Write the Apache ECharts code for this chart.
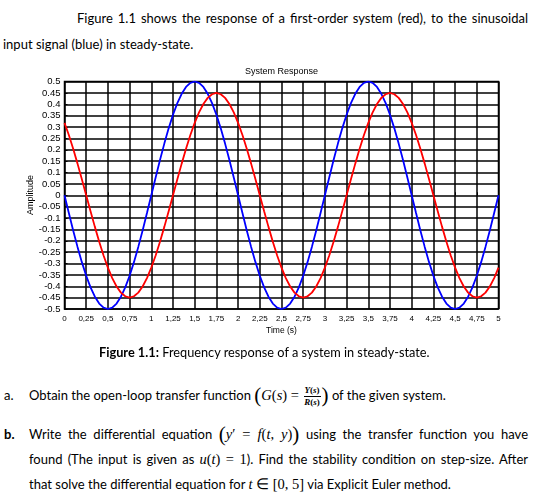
<!DOCTYPE html>
<html>
<head>
<meta charset="utf-8">
<script src="https://cdn.jsdelivr.net/npm/echarts@6/dist/echarts.min.js"></script>
<style>
  html, body { margin:0; padding:0; background:#fff; }
  body { width:555px; height:504px; position:relative; overflow:hidden;
         font-family: Lato, "Open Sans", sans-serif; font-size:13px; color:#000; }
  .ln { position:absolute; line-height:20px; white-space:nowrap; }
  .just { text-align:justify; text-align-last:justify; white-space:normal; }
  .m { font-family:"Liberation Serif", serif; font-size:14.5px; }
  .par { font-family:"Liberation Serif", serif; font-size:21px; vertical-align:-2px; line-height:10px; }
  .frac { display:inline-block; vertical-align:middle; text-align:center;
          font-family:"Liberation Serif", serif; font-size:9px; line-height:9px; font-weight:bold; margin:0 1px; }
  .frac .num { display:block; border-bottom:1px solid #000; padding:0 1px 1px 1px; }
  .frac .den { display:block; padding-top:1px; }
  #chart { position:absolute; left:0; top:60px; width:555px; height:285px; }
</style>
</head>
<body>
<div class="ln just" style="left:77px; top:8px; width:451px;">Figure 1.1 shows the response of a first-order system (red), to the sinusoidal</div>
<div class="ln" style="left:3px; top:34px;">input signal (blue) in steady-state.</div>
<div id="chart"></div>
<div class="ln" style="left:99px; top:342px; font-size:12.75px;"><b>Figure 1.1:</b> Frequency response of a system in steady-state.</div>

<div class="ln" style="left:4px; top:385px;">a.</div>
<div class="ln" style="left:29px; top:385px;">Obtain the open-loop transfer function <span class="par">(</span><span class="m"><i>G</i>(<i>s</i>) = </span><span class="frac"><span class="num"><i>Y</i>(<i>s</i>)</span><span class="den"><i>R</i>(<i>s</i>)</span></span><span class="par">)</span> of the given system.</div>

<div class="ln" style="left:4px; top:424px;"><b>b.</b></div>
<div class="ln just" style="left:29px; top:424px; width:499px;">Write the differential equation <span class="par">(</span><span class="m"><i>y</i>′ = <i>f</i>(<i>t</i>, <i>y</i>)</span><span class="par">)</span> using the transfer function you have</div>
<div class="ln just" style="left:29px; top:449px; width:499px;">found (The input is given as <span class="m"><i>u</i>(<i>t</i>) = 1</span>). Find the stability condition on step-size. After</div>
<div class="ln" style="left:29px; top:474px;">that solve the differential equation for <span class="m"><i>t</i> ∈ [0, 5]</span> via Explicit Euler method.</div>

<script>
const time = [0,0.05,0.1,0.15,0.2,0.25,0.3,0.35,0.4,0.45,0.5,0.55,0.6,0.65,0.7,0.75,0.8,0.85,0.9,0.95,
  1,1.05,1.1,1.15,1.2,1.25,1.3,1.35,1.4,1.45,1.5,1.55,1.6,1.65,1.7,1.75,1.8,1.85,1.9,1.95,
  2,2.05,2.1,2.15,2.2,2.25,2.3,2.35,2.4,2.45,2.5,2.55,2.6,2.65,2.7,2.75,2.8,2.85,2.9,2.95,
  3,3.05,3.1,3.15,3.2,3.25,3.3,3.35,3.4,3.45,3.5,3.55,3.6,3.65,3.7,3.75,3.8,3.85,3.9,3.95,
  4,4.05,4.1,4.15,4.2,4.25,4.3,4.35,4.4,4.45,4.5,4.55,4.6,4.65,4.7,4.75,4.8,4.85,4.9,4.95,5];

const inputSignal = [0,-0.078,-0.155,-0.227,-0.294,-0.354,-0.405,-0.446,-0.476,-0.494,
  -0.5,-0.494,-0.476,-0.446,-0.405,-0.354,-0.294,-0.227,-0.155,-0.078,
  0,0.078,0.155,0.227,0.294,0.354,0.405,0.446,0.476,0.494,
  0.5,0.494,0.476,0.446,0.405,0.354,0.294,0.227,0.155,0.078,
  0,-0.078,-0.155,-0.227,-0.294,-0.354,-0.405,-0.446,-0.476,-0.494,
  -0.5,-0.494,-0.476,-0.446,-0.405,-0.354,-0.294,-0.227,-0.155,-0.078,
  0,0.078,0.155,0.227,0.294,0.354,0.405,0.446,0.476,0.494,
  0.5,0.494,0.476,0.446,0.405,0.354,0.294,0.227,0.155,0.078,
  0,-0.078,-0.155,-0.227,-0.294,-0.354,-0.405,-0.446,-0.476,-0.494,
  -0.5,-0.494,-0.476,-0.446,-0.405,-0.354,-0.294,-0.227,-0.155,-0.078,0];

const systemResponse = [0.318,0.265,0.204,0.139,0.070,0,-0.070,-0.139,-0.204,-0.265,
  -0.318,-0.364,-0.401,-0.428,-0.444,-0.45,-0.444,-0.428,-0.401,-0.364,
  -0.318,-0.265,-0.204,-0.139,-0.070,0,0.070,0.139,0.204,0.265,
  0.318,0.364,0.401,0.428,0.444,0.45,0.444,0.428,0.401,0.364,
  0.318,0.265,0.204,0.139,0.070,0,-0.070,-0.139,-0.204,-0.265,
  -0.318,-0.364,-0.401,-0.428,-0.444,-0.45,-0.444,-0.428,-0.401,-0.364,
  -0.318,-0.265,-0.204,-0.139,-0.070,0,0.070,0.139,0.204,0.265,
  0.318,0.364,0.401,0.428,0.444,0.45,0.444,0.428,0.401,0.364,
  0.318,0.265,0.204,0.139,0.070,0,-0.070,-0.139,-0.204,-0.265,
  -0.318,-0.364,-0.401,-0.428,-0.444,-0.45,-0.444,-0.428,-0.401,-0.364,-0.318];

const xTickLabels = ['0','0,25','0,5','0,75','1','1,25','1,5','1,75','2','2,25','2,5','2,75',
  '3','3,25','3,5','3,75','4','4,25','4,5','4,75','5'];
const yTickLabels = ['-0.5','-0.45','-0.4','-0.35','-0.3','-0.25','-0.2','-0.15','-0.1','-0.05',
  '0','0.05','0.1','0.15','0.2','0.25','0.3','0.35','0.4','0.45','0.5'];

const chart = echarts.init(document.getElementById('chart'), null, {renderer:'canvas'});
const axisFont = { fontFamily:'"Liberation Sans", Arial, sans-serif', color:'#000' };
chart.setOption({
  animation:false,
  graphic:[
    { type:'text', x:281.5, y:12, z:10,
      style:{ text:'System Response', fill:'#000', font:'9px "Liberation Sans", Arial, sans-serif',
              align:'center', verticalAlign:'middle' } },
    { type:'text', x:31, y:135, rotation:Math.PI/2,
      style:{ text:'Amplitude', fill:'#000', font:'9px "Liberation Sans", Arial, sans-serif',
              align:'center', verticalAlign:'middle' } }],
  grid:{ left:64.5, right:56.5, top:21.5, bottom:36, show:true, borderColor:'#000', borderWidth:1.5, backgroundColor:'#fff' },
  xAxis:{ type:'value', min:0, max:5, interval:0.25,
    name:'Time (s)', nameLocation:'middle', nameGap:17, nameMoveOverlap:false,
    nameTextStyle:Object.assign({fontSize:8.5}, axisFont),
    axisLine:{show:false}, axisTick:{show:true, inside:true, length:3, lineStyle:{color:'#000'}},
    axisLabel:Object.assign({fontSize:8, margin:6, formatter:v => xTickLabels[Math.round(v/0.25)]}, axisFont),
    splitLine:{show:true, lineStyle:{color:'#000', width:1.5}} },
  yAxis:{ type:'value', min:-0.5, max:0.5, interval:0.05,
    axisLine:{show:false}, axisTick:{show:true, inside:true, length:3, lineStyle:{color:'#000'}},
    axisLabel:Object.assign({fontSize:9.5, margin:4, formatter:v => yTickLabels[Math.round((v+0.5)/0.05)]}, axisFont),
    splitLine:{show:true, lineStyle:{color:'#000', width:1.5}} },
  series:[
    { type:'line', name:'Input', showSymbol:false, data:time.map((t,i)=>[t, inputSignal[i]]),
      lineStyle:{color:'#0000ff', width:1.8}, itemStyle:{color:'#0000ff'} },
    { type:'line', name:'Response', showSymbol:false, data:time.map((t,i)=>[t, systemResponse[i]]),
      lineStyle:{color:'#ff0000', width:1.8}, itemStyle:{color:'#ff0000'} }
  ]
});
</script>
</body>
</html>
